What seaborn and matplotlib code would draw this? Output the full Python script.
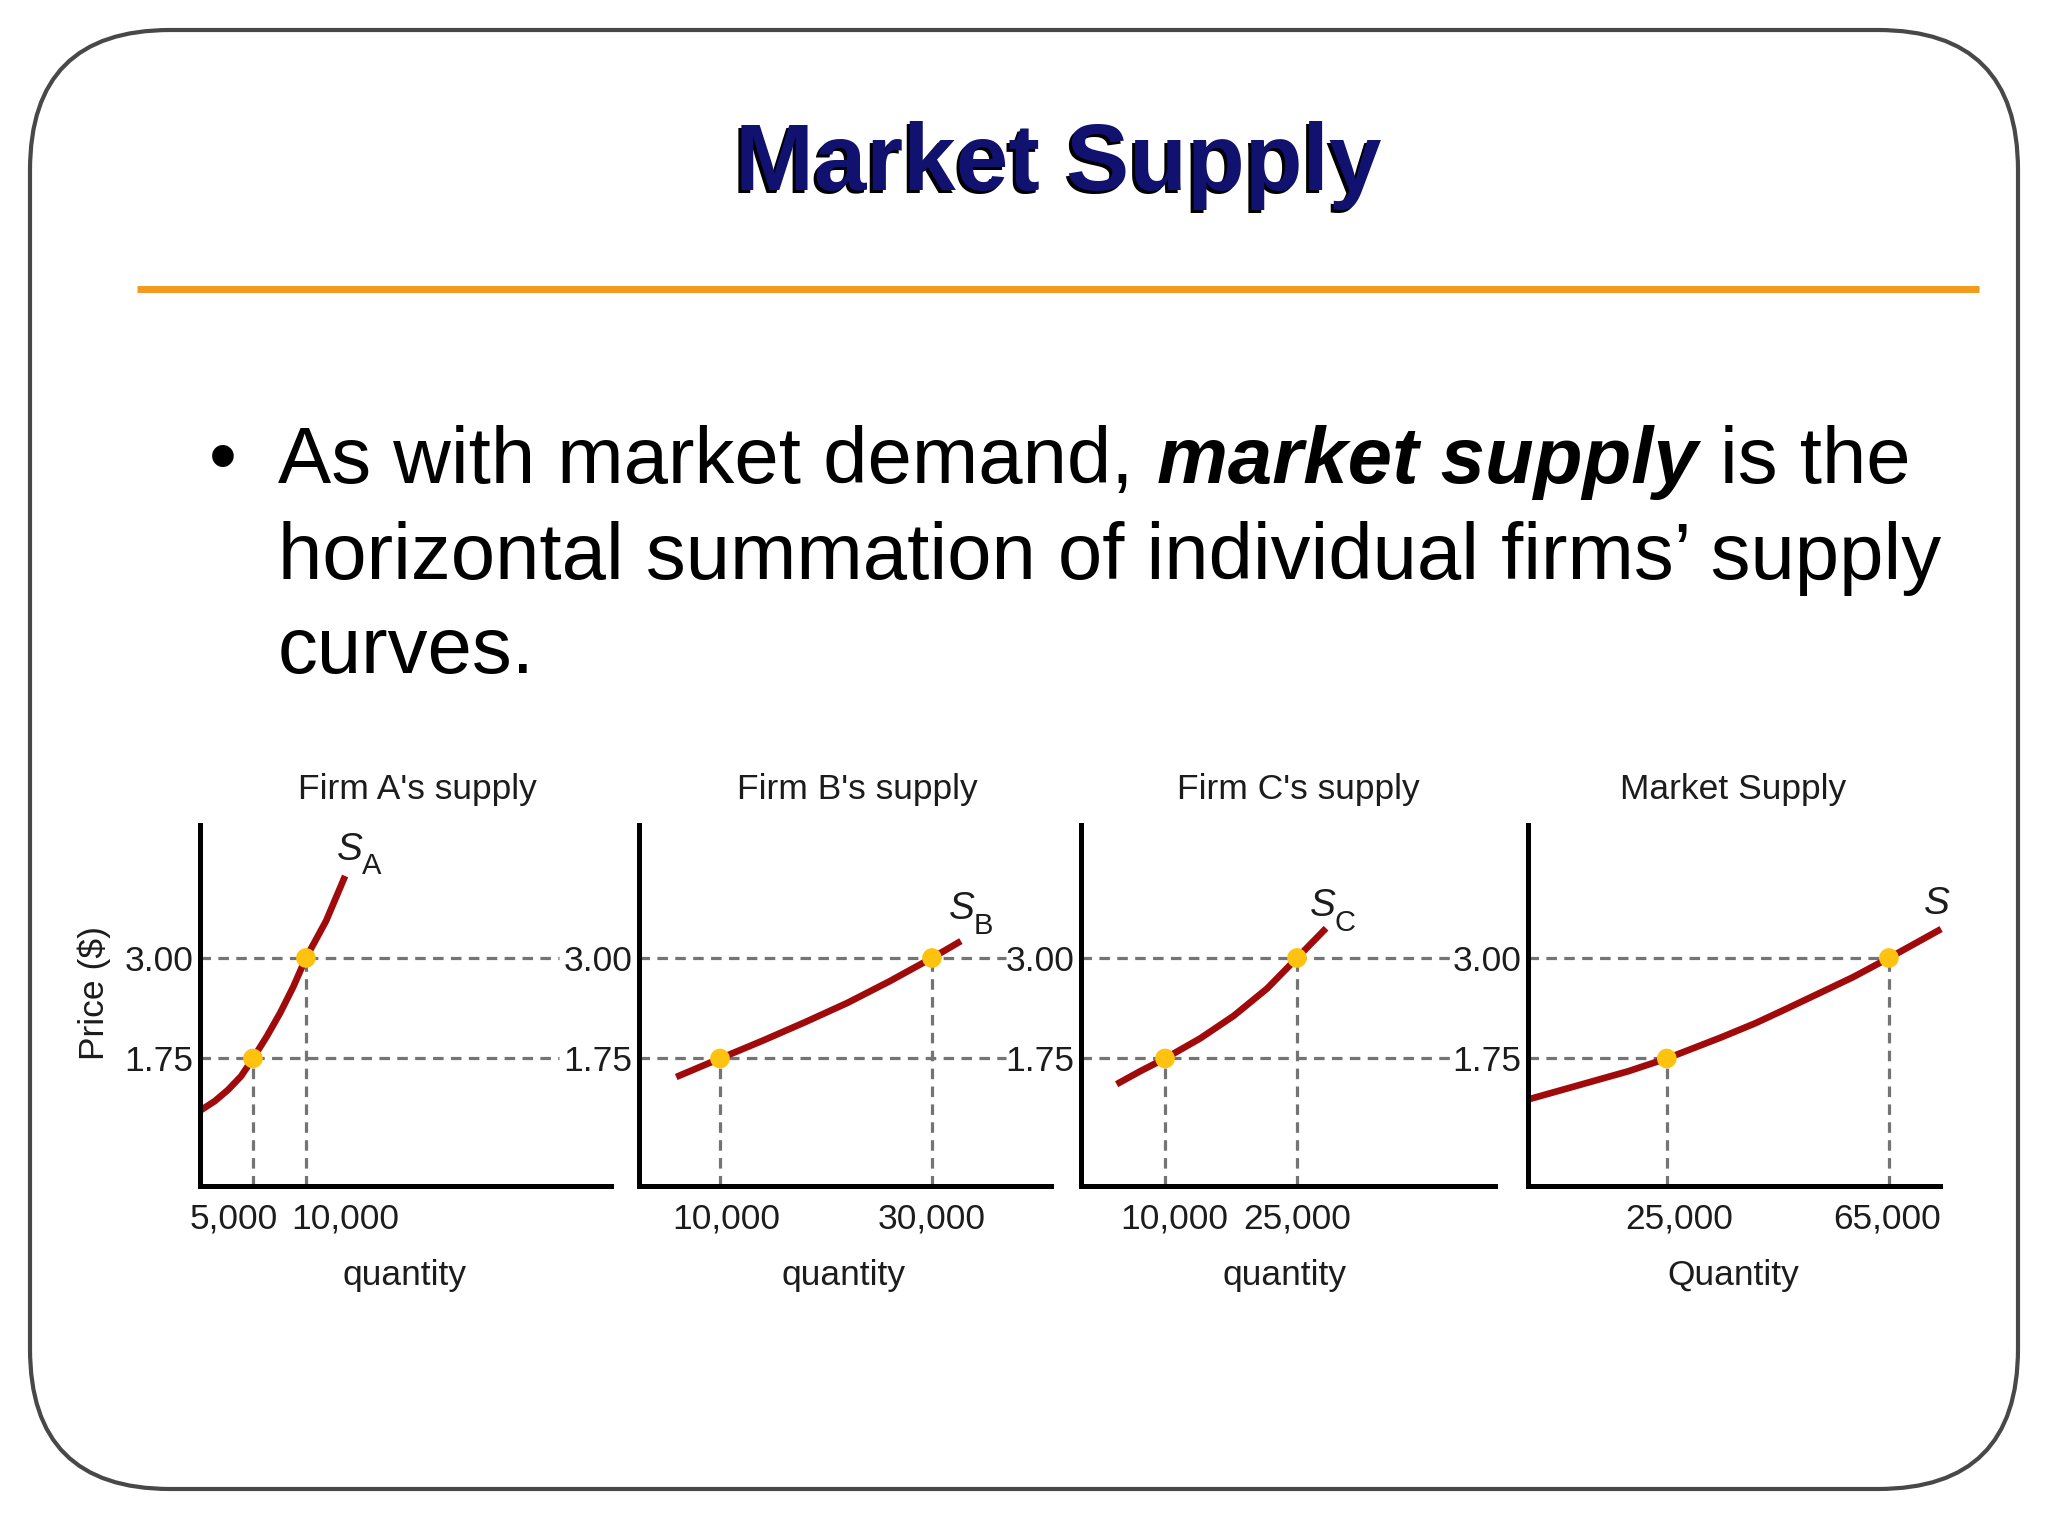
import numpy as np
import pandas as pd
import matplotlib
matplotlib.use("Agg")
import matplotlib.pyplot as plt
import matplotlib.transforms as mtransforms
from matplotlib.patches import FancyBboxPatch
import seaborn as sns

# ------------------------------------------------------------------ data
slide_title = "Market Supply"
bullet_line1 = ["As with market demand,", "market supply", "is the"]
bullet_line2 = "horizontal summation of individual firms\u2019 supply"
bullet_line3 = "curves."

panel_titles = ["Firm A's supply", "Firm B's supply", "Firm C's supply", "Market Supply"]
x_labels = ["quantity", "quantity", "quantity", "Quantity"]
y_label = "Price ($)"
curve_subscripts = ["A", "B", "C", ""]

price_levels = [1.75, 3.00]
price_tick_labels = ["1.75", "3.00"]

# supply curves (quantity, price)
firm_a_q = [0, 1400, 2650, 3880, 5000, 6330, 7580, 8800, 10000, 11900, 13700]
firm_a_p = [1.10, 1.22, 1.36, 1.53, 1.75, 2.03, 2.32, 2.64, 3.00, 3.46, 4.02]
firm_b_q = [5870, 10000, 14000, 18000, 22000, 26000, 30000, 32730]
firm_b_p = [1.52, 1.75, 1.97, 2.20, 2.44, 2.71, 3.00, 3.21]
firm_c_q = [4500, 7150, 10000, 14000, 17800, 21600, 25000, 28300]
firm_c_p = [1.43, 1.59, 1.75, 2.00, 2.28, 2.62, 3.00, 3.37]
market_q = [0, 10800, 18000, 25000, 34700, 41000, 46600, 58500, 65000, 74400]
market_p = [1.24, 1.45, 1.59, 1.75, 2.01, 2.19, 2.37, 2.76, 3.00, 3.36]

# quantity supplied at price 1.75 and 3.00
firm_a_points = [5000, 10000]
firm_b_points = [10000, 30000]
firm_c_points = [10000, 25000]
market_points = [25000, 65000]
point_tick_labels = [["5,000", "10,000"], ["10,000", "30,000"],
                     ["10,000", "25,000"], ["25,000", "65,000"]]

curves_q = [firm_a_q, firm_b_q, firm_c_q, market_q]
curves_p = [firm_a_p, firm_b_p, firm_c_p, market_p]
points_q = [firm_a_points, firm_b_points, firm_c_points, market_points]

# ------------------------------------------------------------------ style / layout
W, H = 2048, 1536
sns.set_theme(style="white")
plt.rcParams["font.family"] = ["Liberation Sans", "DejaVu Sans"]

CURVE_COL = "#A00A0A"
DOT_COL = "#FFC20E"
DASH_COL = "#747474"
TXT_COL = "#1c1c1c"
FS = 25.5

fig = plt.figure(figsize=(W / 100, H / 100), dpi=100)
fig.patch.set_facecolor("white")

bg = fig.add_axes([0, 0, 1, 1], zorder=0)
bg.set_xlim(0, W)
bg.set_ylim(H, 0)
bg.axis("off")

# rounded slide border
bg.add_patch(FancyBboxPatch((30, 30), 1988, 1459,
                            boxstyle="round,pad=0,rounding_size=140",
                            fill=False, ec="#484848", lw=3))

# title with shadow
bg.text(1058 - 3, 190 + 3, slide_title, ha="center", va="baseline",
        fontsize=68, fontweight="bold", color="black")
bg.text(1058, 190, slide_title, ha="center", va="baseline",
        fontsize=68, fontweight="bold", color="#111170")

# orange rule
bg.plot([137, 1979], [289, 289], color="#F39A1C", lw=5, solid_capstyle="butt")

# bullet text
BFS = 57.4
bg.text(209, 483, "\u2022", fontsize=BFS, va="baseline", color="black")
fig.canvas.draw()
renderer = fig.canvas.get_renderer()
space_w = 0.278 * BFS * 100 / 72 + 1
x = 278
for i, seg in enumerate(bullet_line1):
    kw = dict(fontweight="bold", fontstyle="italic") if i == 1 else {}
    t = bg.text(x, 483, seg, fontsize=BFS, va="baseline", color="black", **kw)
    bb = t.get_window_extent(renderer)
    x += bb.width + space_w
bg.text(278, 579, bullet_line2, fontsize=BFS, va="baseline", color="black")
bg.text(278, 673, bullet_line3, fontsize=BFS, va="baseline", color="black")

# panels
panel_px = [(200, 611), (639, 1051), (1081, 1495), (1528, 1940)]
ax_bottom_px, ax_top_px = 1186, 825
xlims = [(0, 38800), (2360, 41230), (450, 47500), (0, 74200)]
ylim = (0.164, 4.654)
guide_end = [33900, 36950, 42350, None]
tick_dx = [[-19, 39], [6, 0], [9, 0], [12, -2]]
title_pos = [(417, 789), (857, 789), (1298, 789), (1733, 789)]
xlabel_pos = [(405, 1276), (844, 1276), (1285, 1276), (1733, 1276)]
s_pos = [(350, 850), (962, 909), (1323, 906), (1937, 904)]
sub_pos = [(372, 866), (983, 926), (1345, 923), None]

dash_style = (0, (3.3, 2.3))

for i in range(4):
    l, r = panel_px[i]
    ax = fig.add_axes([l / W, (H - ax_bottom_px) / H, (r - l) / W,
                       (ax_bottom_px - ax_top_px) / H], zorder=2)
    ax.set_facecolor("none")
    ax.set_xlim(*xlims[i])
    ax.set_ylim(*ylim)

    # dashed guides
    for j, p in enumerate(price_levels):
        xe = guide_end[i] if guide_end[i] is not None else points_q[i][j]
        ax.plot([xlims[i][0], xe], [p, p], ls=dash_style, lw=2.3,
                color=DASH_COL, zorder=1)
        ax.plot([points_q[i][j], points_q[i][j]], [ylim[0], p], ls=dash_style,
                lw=2.3, color=DASH_COL, zorder=1)

    df = pd.DataFrame({"q": curves_q[i], "p": curves_p[i]})
    sns.lineplot(data=df, x="q", y="p", ax=ax, color=CURVE_COL, lw=4.8,
                 sort=False, zorder=3, clip_on=False,
                 solid_capstyle="butt", solid_joinstyle="round")

    dots = pd.DataFrame({"q": points_q[i], "p": price_levels})
    sns.scatterplot(data=dots, x="q", y="p", ax=ax, s=200, color=DOT_COL,
                    edgecolor="none", zorder=5, clip_on=False)

    for sp in ["top", "right"]:
        ax.spines[sp].set_visible(False)
    for sp in ["left", "bottom"]:
        ax.spines[sp].set_color("black")
        ax.spines[sp].set_linewidth(3.6)
        ax.spines[sp].set_zorder(6)
    ax.spines["left"].set_capstyle("projecting")

    ax.set_yticks(price_levels)
    ax.set_yticklabels(price_tick_labels)
    ax.set_xticks(points_q[i])
    ax.set_xticklabels(point_tick_labels[i])
    ax.tick_params(axis="both", length=0, labelsize=FS, colors=TXT_COL)
    ax.tick_params(axis="y", pad=5)
    ax.tick_params(axis="x", pad=12)
    for lab, dx in zip(ax.get_xticklabels(), tick_dx[i]):
        lab.set_transform(lab.get_transform() +
                          mtransforms.ScaledTranslation(dx / 100, 0, fig.dpi_scale_trans))
    ax.set_xlabel("")
    ax.set_ylabel("")
    ax.grid(False)

    bg.text(*title_pos[i], panel_titles[i], ha="center", va="center",
            fontsize=FS, color=TXT_COL)
    bg.text(*xlabel_pos[i], x_labels[i], ha="center", va="center",
            fontsize=FS, color=TXT_COL)
    bg.text(*s_pos[i], "S", ha="center", va="center", fontsize=28,
            fontstyle="italic", color=TXT_COL)
    if sub_pos[i] is not None:
        bg.text(*sub_pos[i], curve_subscripts[i], ha="center", va="center",
                fontsize=21, color=TXT_COL)

bg.text(94, 993, y_label, ha="center", va="center", rotation=90,
        fontsize=FS, color=TXT_COL)

fig.savefig("out.png", dpi=100)
